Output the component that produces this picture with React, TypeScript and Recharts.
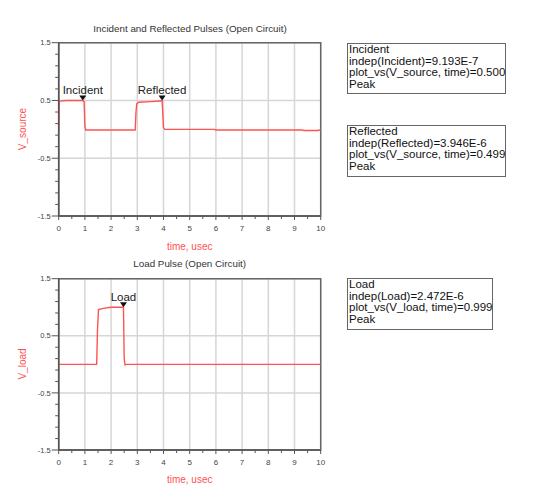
import React from 'react';
import { LineChart, Line, XAxis, YAxis, CartesianGrid, ReferenceArea, ReferenceDot } from 'recharts';

// source voltage (time in usec)
const sourceTime = [0, 0.02, 0.3, 0.92, 0.97, 1.0, 1.03, 2.0, 2.92, 2.95, 2.98, 3.05, 3.5, 3.9, 3.946, 3.97, 4.0, 4.05, 5.0, 5.95, 6.0, 7.5, 9.3, 9.35, 9.9, 9.95, 10];
const sourceV = [-0.02, 0.49, 0.5, 0.5, 0.48, 0.05, -0.01, -0.01, -0.01, 0.3, 0.44, 0.47, 0.48, 0.49, 0.499, 0.3, 0.03, 0.0, 0.0, 0.0, -0.01, -0.01, -0.01, -0.02, -0.02, -0.01, -0.01];

// load voltage
const loadTime = [0, 1.0, 1.45, 1.48, 1.52, 1.7, 2.0, 2.472, 2.5, 2.53, 2.6, 3.0, 5.0, 10];
const loadV = [0, 0, 0, 0.6, 0.96, 0.98, 1.0, 0.999, 0.1, -0.01, 0, 0, 0, 0];

const xTicks = [0, 0.5, 1, 1.5, 2, 2.5, 3, 3.5, 4, 4.5, 5, 5.5, 6, 6.5, 7, 7.5, 8, 8.5, 9, 9.5, 10];
const xMajor = [0, 1, 2, 3, 4, 5, 6, 7, 8, 9, 10];
const yTicks = [-1.5, -1.3, -1.1, -0.9, -0.7, -0.5, -0.3, -0.1, 0.1, 0.3, 0.5, 0.7, 0.9, 1.1, 1.3, 1.5];
const yMajor = [-1.5, -0.5, 0.5, 1.5];
const yMajorLabels = ['-1.5', '-0.5', '0.5', '1.5'];

const markersTop = [
  { name: 'Incident', x: 0.919, y: 0.5 },
  { name: 'Reflected', x: 3.946, y: 0.499 },
];
const markersBottom = [{ name: 'Load', x: 2.472, y: 0.999 }];

const sourceData = sourceTime.map((t, i) => ({ time: t, v: sourceV[i] }));
const loadData = loadTime.map((t, i) => ({ time: t, v: loadV[i] }));

const FONT = '"Liberation Sans", Arial, sans-serif';
const RED = '#ff5252';

const YTick = (props: any) => {
  const { x, y, payload } = props;
  const idx = yMajor.findIndex((m) => Math.abs(m - payload.value) < 1e-6);
  const major = idx >= 0;
  return (
    <g>
      <line x1={x - (major ? 7 : 3.5)} x2={x} y1={y} y2={y} stroke="#555" strokeWidth={1} />
      {major && (
        <text x={x - 8} y={y} dy={2.6} textAnchor="end" fontSize={7.5} fill="#444" fontFamily={FONT}>
          {yMajorLabels[idx]}
        </text>
      )}
    </g>
  );
};

const XTick = (props: any) => {
  const { x, y, payload } = props;
  const major = xMajor.includes(payload.value);
  return (
    <g>
      <line x1={x} x2={x} y1={y} y2={y + (major ? 4 : 3)} stroke="#555" strokeWidth={1} />
      {major && (
        <text x={x} y={y + 15} textAnchor="middle" fontSize={8} fill="#444" fontFamily={FONT}>
          {payload.value}
        </text>
      )}
    </g>
  );
};

const markerShape = (name: string) => (p: any) => {
  const { cx, cy } = p;
  return (
    <g>
      <path d={`M${cx - 3.5},${cy - 5} L${cx + 3.5},${cy - 5} L${cx},${cy} Z`} fill="#111" />
      <text x={cx} y={cy - 6.5} textAnchor="middle" fontSize={11.5} fill="#222" fontFamily={FONT}>
        {name}
      </text>
    </g>
  );
};

interface PlotProps {
  data: { time: number; v: number }[];
  markers: { name: string; x: number; y: number }[];
  top: number;
  marginTop: number;
  marginBottom: number;
}

function Plot({ data, markers, top, marginTop, marginBottom }: PlotProps) {
  return (
    <div style={{ position: 'absolute', left: 0, top }}>
      <LineChart
        width={340}
        height={250}
        data={data}
        margin={{ top: marginTop, right: 19.3, left: 28.7, bottom: marginBottom }}
      >
        <CartesianGrid
          horizontalValues={yMajor}
          verticalValues={xMajor}
          stroke="#d6d6d6"
          strokeWidth={1.5}
        />
        <XAxis
          dataKey="time"
          type="number"
          domain={[0, 10]}
          ticks={xTicks}
          interval={0}
          tickSize={0}
          tickMargin={0}
          tick={<XTick />}
          axisLine={{ stroke: '#555', strokeWidth: 1.5 }}
          tickLine={false}
          height={20}
          allowDataOverflow
        />
        <YAxis
          type="number"
          domain={[-1.5, 1.5]}
          ticks={yTicks}
          interval={0}
          tickSize={0}
          tickMargin={0}
          tick={<YTick />}
          axisLine={{ stroke: '#555', strokeWidth: 1.5 }}
          tickLine={false}
          width={30}
          allowDataOverflow
        />
        <ReferenceArea x1={0} x2={10} y1={-1.5} y2={1.5} fill="none" fillOpacity={0} stroke="#666" strokeWidth={1.5} />
        <Line
          type="linear"
          dataKey="v"
          stroke={RED}
          strokeWidth={1.4}
          dot={false}
          isAnimationActive={false}
        />
        {markers.map((m) => (
          <ReferenceDot key={m.name} x={m.x} y={m.y} r={3} shape={markerShape(m.name)} />
        ))}
      </LineChart>
    </div>
  );
}

const txt = (text: string, left: number, top: number, size: number, color: string, rotate = false) => (
  <div
    style={{
      position: 'absolute',
      left,
      top,
      fontSize: size,
      lineHeight: `${size}px`,
      color,
      fontFamily: FONT,
      whiteSpace: 'nowrap',
      transform: `translate(-50%, -50%)${rotate ? ' rotate(-90deg)' : ''}`,
    }}
  >
    {text}
  </div>
);

const Box = ({ lines, left, top, width, height }: { lines: string[]; left: number; top: number; width: number; height: number }) => (
  <div
    style={{
      position: 'absolute',
      left,
      top,
      width,
      height,
      boxSizing: 'border-box',
      border: '1px solid #666',
      paddingLeft: 1,
      fontFamily: FONT,
      fontSize: 11.5,
      lineHeight: '11.7px',
      color: '#111',
      whiteSpace: 'nowrap',
    }}
  >
    {lines.map((l) => (
      <div key={l}>{l}</div>
    ))}
  </div>
);

export default function App() {
  return (
    <div style={{ position: 'absolute', left: 0, top: 0, width: 550, height: 500, background: '#fff', overflow: 'hidden' }}>
      <Plot data={sourceData} markers={markersTop} top={0} marginTop={42.7} marginBottom={14} />
      <Plot data={loadData} markers={markersBottom} top={235} marginTop={43.7} marginBottom={15} />

      {txt('Incident and Reflected Pulses (Open Circuit)', 190, 29, 9.8, '#333')}
      {txt('time, usec', 189.7, 246.5, 10, RED)}
      {txt('V_source', 22.7, 129, 10, RED, true)}

      {txt('Load Pulse (Open Circuit)', 189.7, 264.3, 9.8, '#333')}
      {txt('time, usec', 189.7, 480, 10, RED)}
      {txt('V_load', 22.7, 364, 10, RED, true)}

      <Box
        lines={['Incident', 'indep(Incident)=9.193E-7', 'plot_vs(V_source, time)=0.500', 'Peak']}
        left={347}
        top={43}
        width={159}
        height={51}
      />
      <Box
        lines={['Reflected', 'indep(Reflected)=3.946E-6', 'plot_vs(V_source, time)=0.499', 'Peak']}
        left={347}
        top={125}
        width={159}
        height={52}
      />
      <Box
        lines={['Load', 'indep(Load)=2.472E-6', 'plot_vs(V_load, time)=0.999', 'Peak']}
        left={347}
        top={278}
        width={146}
        height={52}
      />
    </div>
  );
}
